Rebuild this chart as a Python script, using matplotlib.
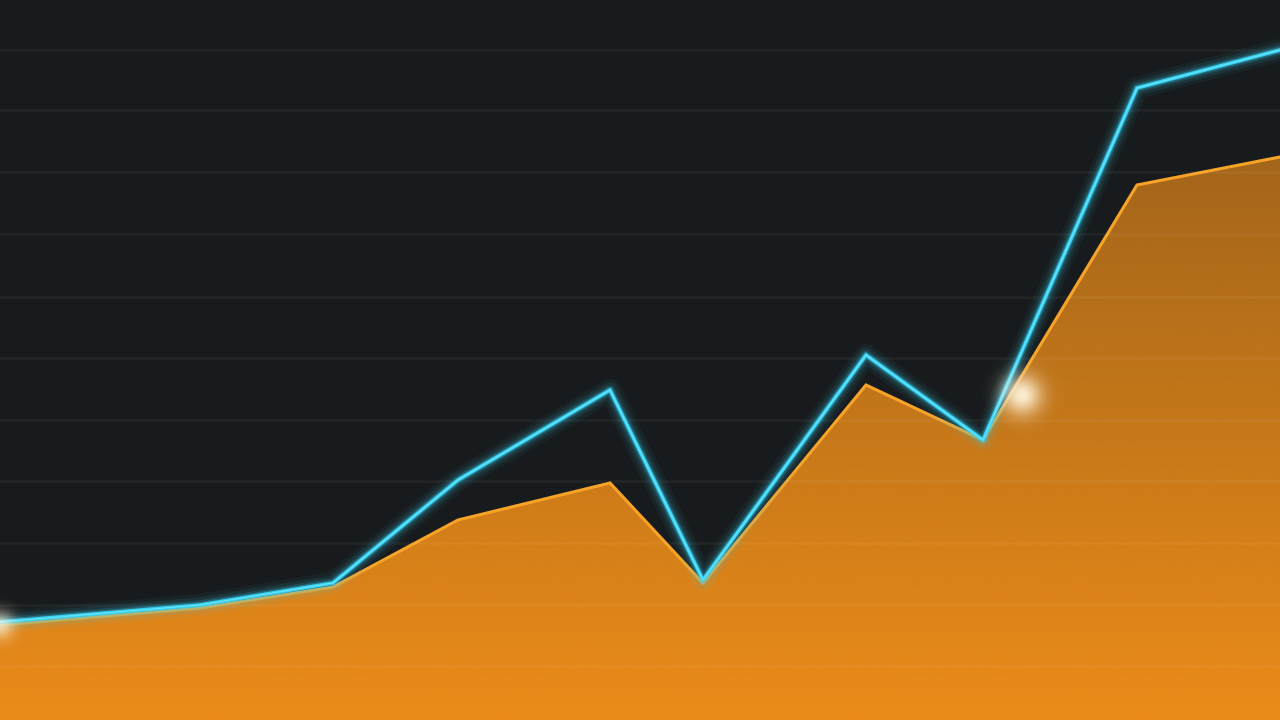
import numpy as np
import matplotlib
matplotlib.use("Agg")
import matplotlib.pyplot as plt
from matplotlib.patches import Polygon

# Data (x position, value)
x_pts      = [0, 200, 333, 458, 610, 703, 866, 983, 1137, 1280]
line_vals  = [98, 115, 137, 240, 330, 140, 365, 280, 632, 670]
area_vals  = [95, 112, 133, 200, 237, 137, 335, 280, 535, 563]
grid_vals  = [54, 115, 177, 239, 300, 362, 423, 486, 548, 610, 670]
glints     = [(1022, 325, 14, 0.95), (0, 95, 10, 0.7)]   # x, y, radius, strength

BG     = "#181b1d"
ORANGE = "#f39019"
CYAN   = "#36d2f4"

fig = plt.figure(figsize=(12.8, 7.2), dpi=100, facecolor=BG)
ax = fig.add_axes([0, 0, 1, 1])
ax.set_facecolor(BG)
ax.set_xlim(0, 1280)
ax.set_ylim(0, 720)
ax.axis("off")

# Area fill with vertical alpha gradient
verts = [(x_pts[0], 0)] + list(zip(x_pts, area_vals)) + [(x_pts[-1], 0)]
poly = Polygon(verts, closed=True, facecolor="none", edgecolor="none")
ax.add_patch(poly)
h = 256
grad = np.zeros((h, 2, 4))
rgb = matplotlib.colors.to_rgb(ORANGE)
grad[:, :, 0], grad[:, :, 1], grad[:, :, 2] = rgb
alpha = np.linspace(0.97, 0.55, h)
grad[:, :, 3] = alpha[:, None]
im = ax.imshow(grad, extent=[0, 1280, 0, 720], origin="lower",
               aspect="auto", zorder=2, interpolation="bicubic")
im.set_clip_path(poly)

# Area edge
ax.plot(x_pts, area_vals, color="#f7a328", lw=2.2, zorder=3,
        solid_joinstyle="miter")

# Gridlines
for g in grid_vals:
    ax.axhline(g, color="white", alpha=0.04, lw=2, zorder=4)

# Cyan glow
for w, a in [(16, 0.05), (11, 0.09), (7, 0.15), (4.5, 0.28)]:
    ax.plot(x_pts, line_vals, color=CYAN, lw=w, alpha=a, zorder=6,
            solid_joinstyle="round", solid_capstyle="round")
ax.plot(x_pts, line_vals, color=CYAN, lw=2.6, zorder=7, solid_joinstyle="miter")
ax.plot(x_pts, line_vals, color="#8ff0ff", lw=0.8, alpha=0.6, zorder=8)

# Soft white glints
for gx, gy, r, k in glints:
    n = 101
    span = r * 3
    xx, yy = np.meshgrid(np.linspace(-span, span, n), np.linspace(-span, span, n))
    g = np.exp(-(xx ** 2 + yy ** 2) / (2 * r ** 2)) * k
    img = np.zeros((n, n, 4))
    img[..., 0], img[..., 1], img[..., 2] = 1.0, 0.96, 0.86
    img[..., 3] = g
    ax.imshow(img, extent=[gx - span, gx + span, gy - span, gy + span],
              origin="lower", aspect="auto", zorder=9, interpolation="bilinear")

ax.set_xlim(0, 1280)
ax.set_ylim(0, 720)
fig.savefig("out.png", dpi=100, facecolor=BG)
